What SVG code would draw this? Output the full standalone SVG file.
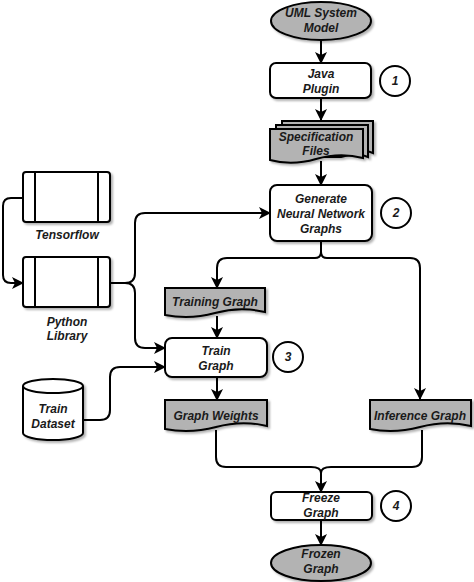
<svg xmlns="http://www.w3.org/2000/svg" width="474" height="582" viewBox="0 0 474 582">
<defs>
<filter id="sh" x="-10%" y="-10%" width="130%" height="140%"><feDropShadow dx="2" dy="2" stdDeviation="1" flood-color="#000" flood-opacity="0.3"/></filter>
<marker id="ah" viewBox="0 0 12 12" refX="11" refY="6" markerWidth="12" markerHeight="12" markerUnits="userSpaceOnUse" orient="auto"><path d="M0,0 L12,6 L0,12 L3,6 Z" fill="#000"/></marker>
</defs>
<style>
.s{stroke:#000;stroke-width:2;}
.w{fill:#fff;}
.g{fill:#b3b3b3;}
.c{fill:none;stroke:#000;stroke-width:2;}
.a{marker-end:url(#ah);}
text{font-family:"Liberation Sans",Arial,sans-serif;font-size:12px;font-weight:bold;font-style:italic;fill:#1a1a1a;text-anchor:middle;}
</style>
<rect width="474" height="582" fill="#fff"/>
<g id="connectors">
<path class="c a" d="M321,39 L321,63"/>
<path class="c a" d="M321,98 L321,120"/>
<path class="c a" d="M321,161 L321,185"/>
<path class="c a" d="M23,198 L11,198 Q3,198 3,206 L3,275 Q3,283 11,283 L23,283"/>
<path class="c a" d="M110,283 L125,283 Q135,283 135,273 L135,223 Q135,213 145,213 L270,213"/>
<path class="c a" d="M125,283 Q135,283 135,293 L135,338 Q135,348 145,348 L165,348"/>
<path class="c a" d="M83,420 L100,420 Q110,420 110,410 L110,377 Q110,367 120,367 L165,367"/>
<path class="c a" d="M321,241 L321,252 Q321,258 315,258 L227,258 Q217,258 217,268 L217,288"/>
<path class="c a" d="M321,252 Q321,258 327,258 L410,258 Q420,258 420,268 L420,399"/>
<path class="c a" d="M217,316 L217,338"/>
<path class="c a" d="M217,377 L217,400"/>
<path class="c" d="M216,430 L216,457 Q216,467 226,467 L311,467 Q321,467 321,473"/>
<path class="c a" d="M422,430 L422,457 Q422,467 412,467 L331,467 Q321,467 321,473 L321,492"/>
<path class="c a" d="M321,520 L321,545"/>
</g>
<g id="uml" filter="url(#sh)"><ellipse class="s g" cx="321" cy="21" rx="50" ry="19"/></g>
<text x="321" y="17">UML System</text><text x="321" y="32">Model</text>
<g id="java" filter="url(#sh)"><rect class="s w" x="270" y="63" width="101" height="35" rx="6"/></g>
<text x="321" y="78">Java</text><text x="321" y="93">Plugin</text>
<g id="circle1"><circle class="s w" cx="395" cy="81" r="15"/><text x="395" y="85">1</text></g>
<g id="spec" filter="url(#sh)">
<path class="s g" d="M282,121 L373,121 L373,153 Q363,148 346,153 L282,153 Z"/>
<path class="s g" d="M276,125 L368,125 L368,157 Q358,152 341,157 L276,157 Z"/>
<path class="s g" d="M270,129 L363,129 L363,158 Q340,152 316,159 T270,160 Z"/>
</g>
<text x="316" y="141">Specification</text><text x="316" y="155">Files</text>
<g id="generate" filter="url(#sh)"><rect class="s w" x="270" y="185" width="102" height="56" rx="7"/></g>
<text x="321" y="203">Generate</text><text x="321" y="218">Neural Network</text><text x="321" y="233">Graphs</text>
<g id="circle2"><circle class="s w" cx="396" cy="213" r="15"/><text x="396" y="217">2</text></g>
<g id="tensorflow" filter="url(#sh)"><rect class="s w" x="23" y="172" width="87" height="50" rx="3"/><path class="c" d="M35,172 L35,222 M98,172 L98,222"/></g>
<text x="67" y="239">Tensorflow</text>
<g id="python" filter="url(#sh)"><rect class="s w" x="23" y="257" width="87" height="50" rx="3"/><path class="c" d="M35,257 L35,307 M98,257 L98,307"/></g>
<text x="67" y="326">Python</text><text x="67" y="340">Library</text>
<g id="training" filter="url(#sh)"><path class="s g" d="M165,288 L265,288 L265,312 Q240,306 215,313 T165,315 Z"/></g>
<text x="215" y="306">Training Graph</text>
<g id="train" filter="url(#sh)"><rect class="s w" x="165" y="338" width="102" height="39" rx="7"/></g>
<text x="216" y="355">Train</text><text x="216" y="370">Graph</text>
<g id="circle3"><circle class="s w" cx="288" cy="357" r="15"/><text x="288" y="361">3</text></g>
<g id="dataset" filter="url(#sh)"><path class="s w" d="M23,386 A30,7 0 0 1 83,386 L83,433 A30,7 0 0 1 23,433 Z"/><path class="c" d="M23,386 A30,7 0 0 0 83,386"/></g>
<text x="53" y="413">Train</text><text x="53" y="428">Dataset</text>
<g id="weights" filter="url(#sh)"><path class="s g" d="M165,400 L267,400 L267,426 Q242,420 216,427 T165,429 Z"/></g>
<text x="216" y="420">Graph Weights</text>
<g id="inference" filter="url(#sh)"><path class="s g" d="M370,400 L471,400 L471,426 Q446,420 420,427 T370,429 Z"/></g>
<text x="420" y="420">Inference Graph</text>
<g id="freeze" filter="url(#sh)"><rect class="s w" x="271" y="492" width="101" height="28" rx="5"/></g>
<text x="321" y="502">Freeze</text><text x="321" y="517">Graph</text>
<g id="circle4"><circle class="s w" cx="396" cy="506" r="15"/><text x="396" y="510">4</text></g>
<g id="frozen" filter="url(#sh)"><ellipse class="s g" cx="321" cy="563" rx="50" ry="18"/></g>
<text x="321" y="558">Frozen</text><text x="321" y="573">Graph</text>
</svg>
